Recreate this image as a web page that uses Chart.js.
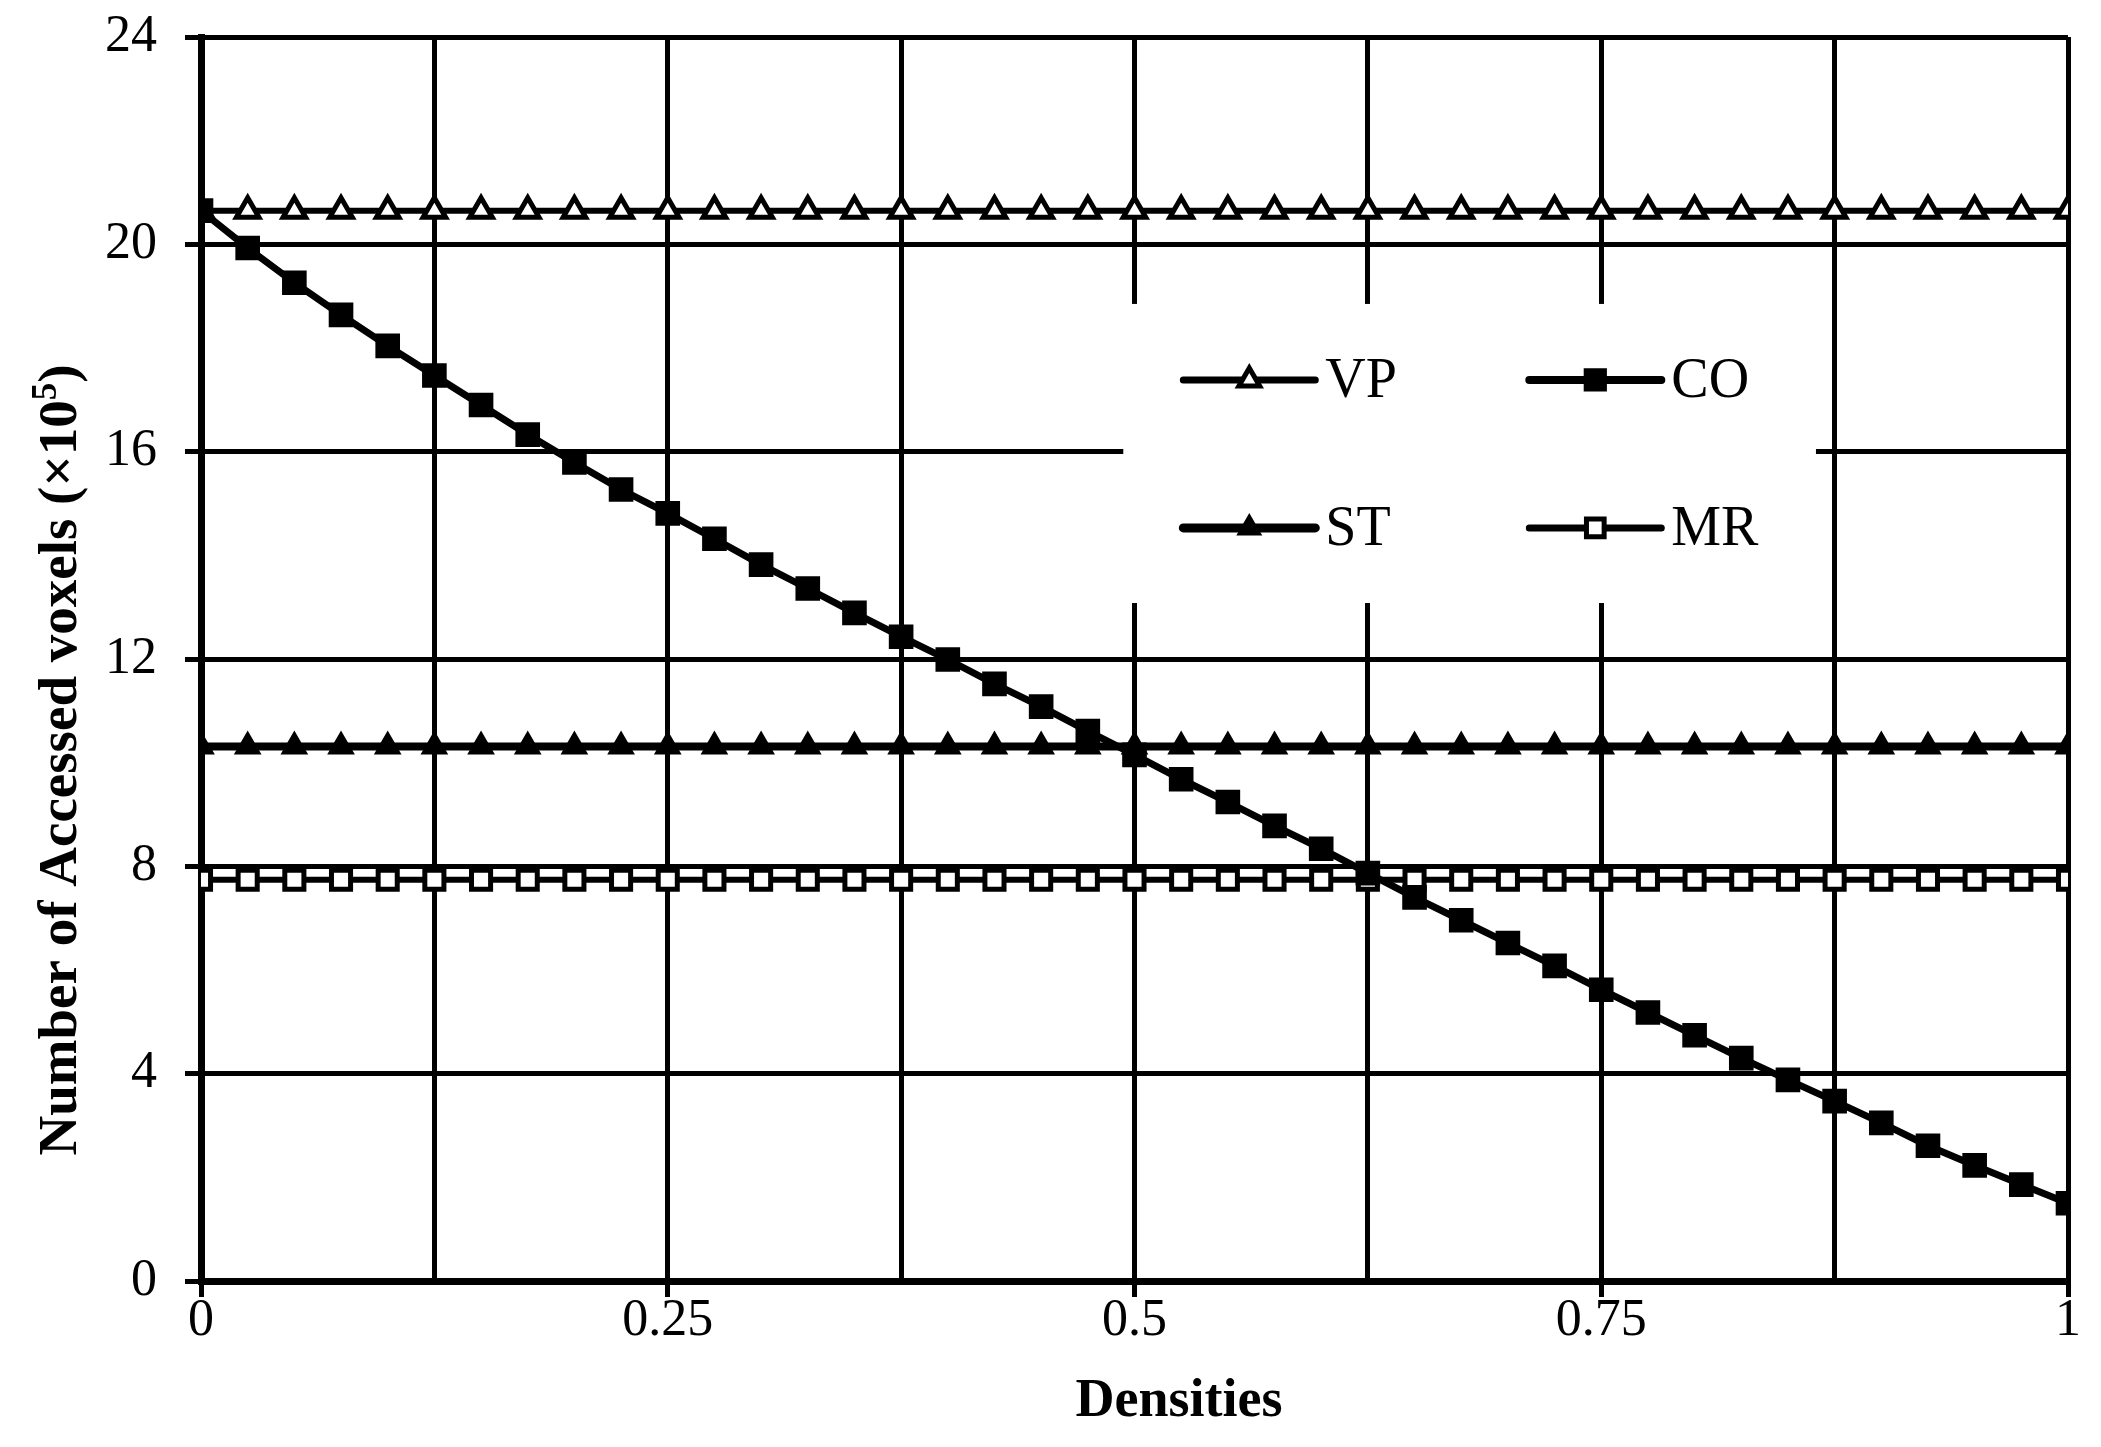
<!DOCTYPE html>
<html>
<head>
<meta charset="utf-8">
<script src="https://cdn.jsdelivr.net/npm/chart.js@4.4.1/dist/chart.umd.min.js"></script>
<style>
  html, body { margin: 0; padding: 0; background: #fff; }
  #wrap { width: 2101px; height: 1447px; }
</style>
</head>
<body>
<div id="wrap"><canvas id="chart" width="2101" height="1447"></canvas></div>
<script>
// Data (values x 10^5)
const densities = [0, 0.025, 0.05, 0.075, 0.1, 0.125, 0.15, 0.175, 0.2, 0.225,
  0.25, 0.275, 0.3, 0.325, 0.35, 0.375, 0.4, 0.425, 0.45, 0.475,
  0.5, 0.525, 0.55, 0.575, 0.6, 0.625, 0.65, 0.675, 0.7, 0.725,
  0.75, 0.775, 0.8, 0.825, 0.85, 0.875, 0.9, 0.925, 0.95, 0.975, 1];

const vpValues = [20.65, 20.65, 20.65, 20.65, 20.65, 20.65, 20.65, 20.65, 20.65, 20.65,
  20.65, 20.65, 20.65, 20.65, 20.65, 20.65, 20.65, 20.65, 20.65, 20.65,
  20.65, 20.65, 20.65, 20.65, 20.65, 20.65, 20.65, 20.65, 20.65, 20.65,
  20.65, 20.65, 20.65, 20.65, 20.65, 20.65, 20.65, 20.65, 20.65, 20.65, 20.65];

const coValues = [20.65, 19.93, 19.26, 18.64, 18.04, 17.47, 16.9, 16.33, 15.79, 15.27,
  14.81, 14.32, 13.82, 13.36, 12.89, 12.43, 11.99, 11.52, 11.08, 10.61,
  10.15, 9.68, 9.24, 8.78, 8.34, 7.87, 7.4, 6.96, 6.52, 6.08,
  5.62, 5.18, 4.74, 4.3, 3.88, 3.47, 3.05, 2.61, 2.23, 1.86, 1.5];

const stValues = [10.31, 10.31, 10.31, 10.31, 10.31, 10.31, 10.31, 10.31, 10.31, 10.31,
  10.31, 10.31, 10.31, 10.31, 10.31, 10.31, 10.31, 10.31, 10.31, 10.31,
  10.31, 10.31, 10.31, 10.31, 10.31, 10.31, 10.31, 10.31, 10.31, 10.31,
  10.31, 10.31, 10.31, 10.31, 10.31, 10.31, 10.31, 10.31, 10.31, 10.31, 10.31];

const mrValues = [7.74, 7.74, 7.74, 7.74, 7.74, 7.74, 7.74, 7.74, 7.74, 7.74,
  7.74, 7.74, 7.74, 7.74, 7.74, 7.74, 7.74, 7.74, 7.74, 7.74,
  7.74, 7.74, 7.74, 7.74, 7.74, 7.74, 7.74, 7.74, 7.74, 7.74,
  7.74, 7.74, 7.74, 7.74, 7.74, 7.74, 7.74, 7.74, 7.74, 7.74, 7.74];

const seriesNames = ['VP', 'CO', 'ST', 'MR'];
const xTickLabels = ['0', '0.25', '0.5', '0.75', '1'];
const xTitle = 'Densities';
const yTitle = 'Number of Accessed voxels (\u00D710';
const yTitleExp = '5';

const SERIF = "'Liberation Serif', 'Times New Roman', serif";

function toPoints(ys) {
    return densities.map((x, i) => ({ x: x, y: ys[i] }));
}

function isMajor(v) {
    return Math.abs(v * 4 - Math.round(v * 4)) < 1e-9;
}

// marker styles (also used by the in-plot legend)
const styles = {
    VP: { line: 6, shape: 'triangle', r: 13, fill: '#fff', bw: 5 },
    CO: { line: 7, shape: 'rect', r: 16, fill: '#000', bw: 2 },
    ST: { line: 8, shape: 'triangle', r: 14, fill: '#000', bw: 2 },
    MR: { line: 6, shape: 'rect', r: 13.5, fill: '#fff', bw: 5 }
};

function makeDataset(name, values, order) {
    const s = styles[name];
    return {
        label: name,
        data: toPoints(values),
        borderColor: '#000',
        borderWidth: s.line,
        pointStyle: s.shape,
        pointRadius: s.r,
        pointHoverRadius: s.r,
        pointBackgroundColor: s.fill,
        pointBorderColor: '#000',
        pointBorderWidth: s.bw,
        tension: 0,
        order: order
    };
}

function drawMarker(ctx, shape, r, x, y) {
    ctx.beginPath();
    if (shape === 'triangle') {
        const w = Math.sin(2 * Math.PI / 3) * r;
        ctx.moveTo(x, y - r);
        ctx.lineTo(x + w, y + r / 2);
        ctx.lineTo(x - w, y + r / 2);
    } else {
        const h = Math.SQRT1_2 * r;
        ctx.rect(x - h, y - h, 2 * h, 2 * h);
    }
    ctx.closePath();
}

// legend inside the plot, on a white box over the grid
const insideLegend = {
    id: 'insideLegend',
    beforeDatasetsDraw(chart) {
        const ctx = chart.ctx;
        const xs = chart.scales.x, ys = chart.scales.y;
        const left = xs.getPixelForValue(0.494), right = xs.getPixelForValue(0.865);
        const top = ys.getPixelForValue(18.85), bottom = ys.getPixelForValue(13.08);
        ctx.save();
        ctx.fillStyle = '#fff';
        ctx.fillRect(left, top, right - left, bottom - top);

        const cols = [left + 60, left + 406];
        const rows = [top + 76, top + 224];
        seriesNames.forEach((name, i) => {
            const s = styles[name];
            const x0 = cols[i % 2], y0 = rows[Math.floor(i / 2)];
            ctx.strokeStyle = '#000';
            ctx.lineCap = 'round';
            ctx.lineWidth = s.line + 1;
            ctx.beginPath();
            ctx.moveTo(x0, y0);
            ctx.lineTo(x0 + 132, y0);
            ctx.stroke();
            ctx.lineCap = 'butt';
            drawMarker(ctx, s.shape, s.r - 1, x0 + 66, y0);
            ctx.fillStyle = s.fill;
            ctx.fill();
            ctx.lineWidth = s.bw;
            ctx.stroke();
            ctx.fillStyle = '#000';
            ctx.font = '56px ' + SERIF;
            ctx.textAlign = 'left';
            ctx.textBaseline = 'middle';
            ctx.fillText(name, x0 + 142, y0 + 2);
        });
        ctx.restore();
    },
    afterDraw(chart) {
        // axis titles
        const ctx = chart.ctx;
        ctx.save();
        ctx.fillStyle = '#000';
        ctx.font = 'bold 54px ' + SERIF;
        ctx.textAlign = 'center';
        ctx.textBaseline = 'middle';
        ctx.fillText(xTitle, 1179, 1402);

        const big = 'bold 55px ' + SERIF, small = 'bold 35px ' + SERIF;
        ctx.translate(62, 760);
        ctx.rotate(-Math.PI / 2);
        ctx.font = big;
        const mainW = ctx.measureText(yTitle).width;
        const closeW = ctx.measureText(')').width;
        ctx.font = small;
        const expW = ctx.measureText(yTitleExp).width;
        const total = mainW + expW + closeW;
        let x = -total / 2;
        ctx.textAlign = 'left';
        ctx.font = big;
        ctx.fillText(yTitle, x, 0);
        x += mainW;
        ctx.font = small;
        ctx.fillText(yTitleExp, x, -15);
        x += expW;
        ctx.font = big;
        ctx.fillText(')', x, 0);
        ctx.restore();
    }
};

new Chart(document.getElementById('chart').getContext('2d'), {
    type: 'line',
    data: {
        datasets: [
            makeDataset('VP', vpValues, 2),
            makeDataset('CO', coValues, 0),
            makeDataset('ST', stValues, 1),
            makeDataset('MR', mrValues, 1)
        ]
    },
    options: {
        responsive: false,
        animation: false,
        devicePixelRatio: 1,
        layout: { padding: { left: 0, right: 33, top: 37, bottom: 0 } },
        plugins: {
            legend: { display: false },
            tooltip: { enabled: false }
        },
        scales: {
            x: {
                type: 'linear',
                min: 0,
                max: 1,
                afterFit: (scale) => {
                    scale.height = 166;
                    scale.paddingLeft = 0;
                    scale.paddingRight = 0;
                },
                afterBuildTicks: (scale) => {
                    scale.ticks = densities.filter((d, i) => i % 5 === 0).map(v => ({ value: v }));
                },
                border: { color: '#000', width: 7 },
                grid: {
                    color: '#000',
                    lineWidth: 5,
                    drawTicks: true,
                    tickLength: 16,
                    tickColor: (c) => (c.tick && isMajor(c.tick.value)) ? '#000' : 'rgba(0,0,0,0)'
                },
                ticks: {
                    autoSkip: false,
                    maxRotation: 0,
                    padding: -7,
                    color: '#000',
                    font: { family: SERIF, size: 52 },
                    callback: (v) => isMajor(v) ? xTickLabels[Math.round(v * 4)] : ''
                }
            },
            y: {
                type: 'linear',
                min: 0,
                max: 24,
                afterFit: (scale) => {
                    scale.width = 201;
                    scale.paddingTop = 0;
                    scale.paddingBottom = 0;
                },
                border: { color: '#000', width: 7 },
                grid: {
                    color: '#000',
                    lineWidth: 5,
                    tickLength: 16,
                    tickColor: '#000'
                },
                ticks: {
                    stepSize: 4,
                    padding: 28,
                    color: '#000',
                    font: { family: SERIF, size: 52 }
                }
            }
        }
    },
    plugins: [insideLegend]
});
</script>
</body>
</html>
